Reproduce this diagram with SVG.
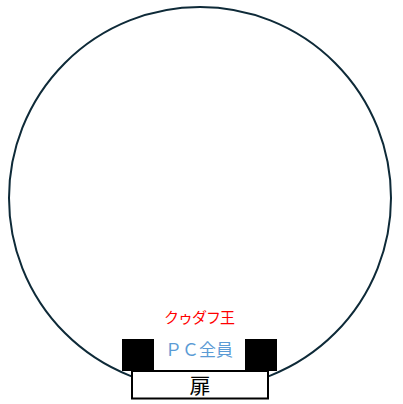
<svg xmlns="http://www.w3.org/2000/svg" width="403" height="404" viewBox="0 0 403 404">
<style>
.jp{font-family:"Noto Sans CJK JP","Noto Sans CJK SC",sans-serif;text-anchor:middle}
.pillar{fill:#000}
</style>
<rect width="403" height="404" fill="#fff"/>
<g id="room"><circle cx="200" cy="198" r="191" fill="none" stroke="#0e2a38" stroke-width="2"/></g>
<g id="pillar-left"><rect class="pillar" x="122" y="339" width="32" height="32"/></g>
<g id="pillar-right"><rect class="pillar" x="245" y="339" width="32" height="32"/></g>
<g id="door"><rect x="132" y="371" width="136" height="27.5" fill="#fff" stroke="#000" stroke-width="2"/>
<text class="jp" x="200" y="393" font-size="21" fill="#000">扉</text></g>
<g id="pc"><text class="jp" x="199" y="356" font-size="17" fill="#5b9bd5">ＰＣ全員</text></g>
<g id="king"><text class="jp" x="199" y="323" font-size="15" letter-spacing="-1" fill="#ff0000">クゥダフ王</text></g>
<g id="connectors"/>
</svg>
